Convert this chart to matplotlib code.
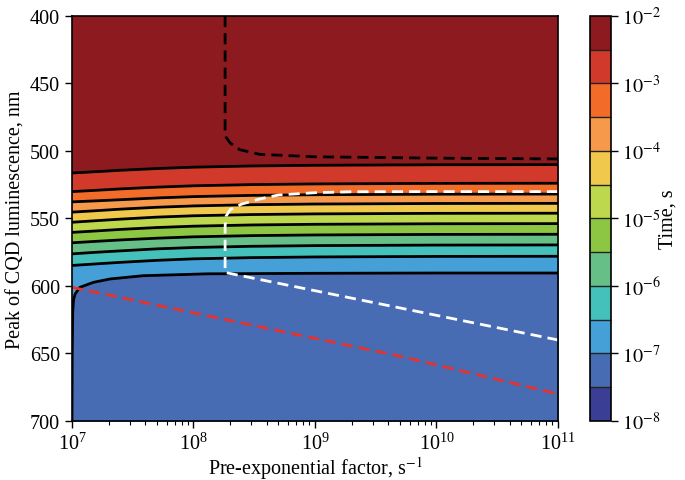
import numpy as np
import matplotlib
matplotlib.use("Agg")
import matplotlib.pyplot as plt
from matplotlib.colors import ListedColormap, LogNorm
from matplotlib.cm import ScalarMappable

plt.rcParams['font.family'] = ['Liberation Serif', 'DejaVu Serif']
plt.rcParams['mathtext.fontset'] = 'stix'
plt.rcParams['font.size'] = 14.5

# colour levels of the time map (log10 of seconds), one colour per half decade
levels_exp = np.arange(-8.0, -1.99, 0.5)
band_colors = ['#3a3f95', '#486cb3', '#46a0d8', '#45c1bc', '#66bf87', '#8dc643',
               '#bdd84c', '#efc84c', '#f7994a', '#f26b29', '#d13a2b', '#8c1a1e']
cbar_ticks = [1e-8, 1e-7, 1e-6, 1e-5, 1e-4, 1e-3, 1e-2]
cbar_labels = ['$10^{-8}$', '$10^{-7}$', '$10^{-6}$', '$10^{-5}$', '$10^{-4}$',
               '$10^{-3}$', '$10^{-2}$']

x_pts = [1e7, 1.6e7, 2.5e7, 5e7, 1e8, 3e8, 1e9, 1e10, 1e11]
line_m25 = [516.3, 515.3, 514.3, 513.0, 512.0, 511.1, 510.6, 510.2, 510.1]
line_m30 = [530.1, 529.1, 528.1, 526.8, 525.8, 524.9, 524.4, 524.0, 523.9]
line_m35 = [537.7, 536.9, 536.1, 534.8, 533.8, 532.9, 532.4, 532.0, 531.9]
line_m40 = [545.3, 544.2, 543.1, 541.7, 540.7, 539.8, 539.3, 538.9, 538.8]
line_m45 = [552.8, 551.6, 550.5, 549.0, 548.0, 547.1, 546.6, 546.2, 546.1]
line_m50 = [560.3, 559.2, 558.1, 556.7, 555.7, 554.8, 554.3, 553.9, 553.8]
line_m55 = [568.0, 566.9, 565.9, 564.6, 563.6, 562.7, 562.2, 561.8, 561.7]
line_m60 = [576.2, 575.0, 574.0, 572.5, 571.5, 570.6, 570.1, 569.7, 569.6]
line_m65 = [584.8, 583.6, 582.5, 581.0, 579.9, 579.0, 578.5, 578.1, 578.0]

# the 1e-7 s line bends down to the left edge
x_m70 = [1.0e7, 1.004e7, 1.014e7, 1.03e7, 1.06e7, 1.16e7, 1.5e7, 2.06e7, 3.84e7,
         1.29e8, 1e9, 1e10, 1e11]
line_m70 = [700, 650, 619, 610, 606, 601, 597.3, 594.8, 592.4, 591.0, 590.6, 590.4, 590.4]

# dashed curves
black_dash_x = [1.82e8, 1.82e8, 1.86e8, 2.0e8, 2.4e8, 3.5e8, 1e9, 1e10, 1e11]
black_dash_y = [400, 486, 490, 494, 499, 502.5, 504.3, 505.3, 505.9]
white_dash_x = [1e11, 1e10, 2e9, 1e9, 5e8, 3.5e8, 2.5e8, 2.0e8, 1.85e8, 1.82e8, 1.82e8, 1e11]
white_dash_y = [530.1, 530.1, 530.2, 530.9, 532.6, 535.6, 539.3, 543.5, 548.5, 556, 590, 640]
red_dash_x = [1e7, 5e9, 1e11]
red_dash_y = [601, 652, 680]

fig = plt.figure(figsize=(6.85, 4.81), dpi=100)
ax = fig.add_axes([0.1051, 0.1227, 0.7095, 0.842])
cax = fig.add_axes([0.8613, 0.1227, 0.0307, 0.842])

lines = [(x_pts, line_m25), (x_pts, line_m30), (x_pts, line_m35), (x_pts, line_m40),
         (x_pts, line_m45), (x_pts, line_m50), (x_pts, line_m55), (x_pts, line_m60),
         (x_pts, line_m65), (x_m70, line_m70)]

# top band first, then each lower band painted over from its upper line down
ax.fill_between([1e7, 1e11], 400, 700, color=band_colors[11], lw=0)
for i, (xs, ys) in enumerate(lines):
    ax.fill_between(xs, ys, 700, color=band_colors[10 - i], lw=0)
for xs, ys in lines:
    ax.plot(xs, ys, color='black', lw=2.0)

ax.plot(black_dash_x, black_dash_y, color='black', lw=2.0, ls=(0, (4, 2.2)))
ax.plot(white_dash_x, white_dash_y, color='white', lw=2.0, ls=(0, (4, 2.2)))
ax.plot(red_dash_x, red_dash_y, color='#e8312c', lw=2.0, ls=(0, (4, 2.2)))

ax.set_xscale('log')
ax.set_xlim(1e7, 1e11)
ax.set_ylim(700, 400)
ax.set_yticks([400, 450, 500, 550, 600, 650, 700])
ax.tick_params(direction='out', length=5, width=1)
ax.tick_params(which='minor', direction='out', length=3, width=0.8)
ax.set_xlabel('Pre-exponential factor, s$^{-1}$', labelpad=0)
ax.set_ylabel('Peak of CQD luminescence, nm', labelpad=3)
for s in ax.spines.values():
    s.set_linewidth(1.2)

cmap = ListedColormap(band_colors)
sm = ScalarMappable(norm=LogNorm(1e-8, 1e-2), cmap=cmap)
cb = fig.colorbar(sm, cax=cax, boundaries=10.0 ** levels_exp, drawedges=True,
                  ticks=cbar_ticks)
cb.set_ticklabels(cbar_labels)
cb.dividers.set_color('#222222')
cb.dividers.set_linewidth(1)
cb.outline.set_linewidth(1.2)
cax.tick_params(length=5, width=1, pad=3)
cax.minorticks_off()
cb.set_label('Time, s', labelpad=-2)

fig.savefig('out.png', dpi=100)
